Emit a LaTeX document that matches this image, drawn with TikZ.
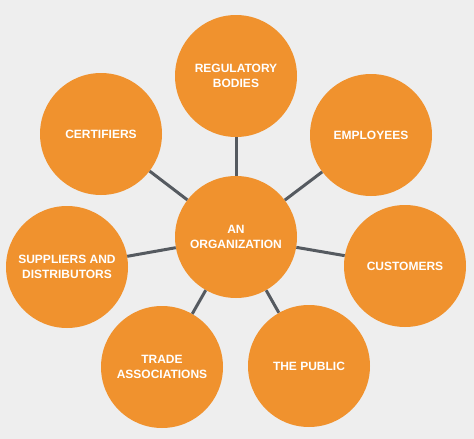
\documentclass[tikz,border=0pt]{standalone}
\usepackage{fontspec}
\setmainfont{Liberation Sans}
\definecolor{bubblefill}{HTML}{F0922E}
\definecolor{backfill}{HTML}{EEEEEE}
\definecolor{spokecol}{HTML}{555A60}

\begin{document}
\begin{tikzpicture}[x=1pt, y=-1pt,
    bubble/.style={circle, fill=bubblefill, minimum size=122pt, inner sep=0pt, align=center, text=white, font=\fontsize{12}{15.5}\selectfont\bfseries},
    spoke/.style={draw=spokecol, line width=3pt}]
            \useasboundingbox (0, 0) rectangle (474, 439);
            \fill[backfill] (0, 0) rectangle (474, 439);

            \node[bubble] (org) at (236, 237) {AN\\ORGANIZATION};

            \node[bubble] (regulatory) at (236, 76) {REGULATORY\\BODIES};
            \node[bubble] (employees) at (371, 135) {EMPLOYEES};
            \node[bubble] (customers) at (405, 266) {CUSTOMERS};
            \node[bubble] (public) at (309, 366) {THE PUBLIC};
            \node[bubble] (trade) at (162, 367) {TRADE\\ASSOCIATIONS};
            \node[bubble] (suppliers) at (67, 267) {SUPPLIERS AND\\DISTRIBUTORS};
            \node[bubble] (certifiers) at (101, 134) {CERTIFIERS};

            % spokes from the middle
            \draw[spoke] (org) -- (regulatory);
            \draw[spoke] (org) -- (employees);
            \draw[spoke] (org) -- (customers);
            \draw[spoke] (org) -- (public);
            \draw[spoke] (org) -- (trade);
            \draw[spoke] (org) -- (suppliers);
            \draw[spoke] (org) -- (certifiers);
        \end{tikzpicture}
\end{document}
